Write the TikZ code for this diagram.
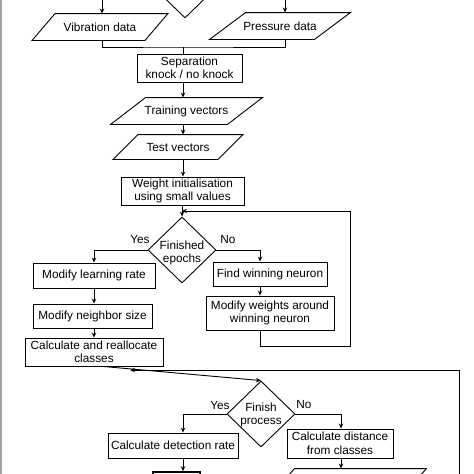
\documentclass[tikz,border=0pt]{standalone}
\usepackage{fontspec}
\setmainfont{Liberation Sans}
\usetikzlibrary{shapes.geometric,arrows.meta,calc}
\tikzset{
 box/.style={draw, inner sep=0pt, align=center},
 ptext/.style={inner sep=0pt, align=center},
 dia/.style={draw, shape=diamond, inner sep=0pt, minimum width=68pt, minimum height=66pt},
 arr/.style={-{Stealth[length=5pt,width=4.5pt]}},
 lbl/.style={inner sep=0pt},
}
\newcommand\drawpara[2]{\draw ([xshift=#2]#1.north west) -- ([xshift=#2]#1.north east) -- ([xshift=-#2]#1.south east) -- ([xshift=-#2]#1.south west) -- cycle;}
\begin{document}
\begin{tikzpicture}[x=1pt,y=-1pt,line width=0.9pt,font=\fontsize{11.8}{13.5}\selectfont]
\useasboundingbox (0,0) rectangle (474,474);
\clip (0,0) rectangle (474,474);
\fill[white] (0,0) rectangle (474,474);
\fill[gray!75] (0,0) rectangle (2,474);

% top
\node[dia] (top) at (185,-15) {};
\node[ptext, minimum width=112pt, minimum height=26pt] (vib) at (100,27) {Vibration data};
\drawpara{vib}{11.5pt}
\node[ptext, minimum width=104pt, minimum height=26pt] (pre) at (280,26) {Pressure data};
\drawpara{pre}{18pt}
\coordinate (inV) at (102,-5);
\coordinate (inP) at (285,-5);
\draw[arr] (inV) -- (vib.north -| inV);
\draw[arr] (inP) -- (pre.north -| inP);
\coordinate (mx) at (183,47);
\draw (vib.south -| inV) |- (mx) -| (pre.south -| inP);

\node[box, minimum width=105pt, minimum height=28pt] (sep) at (189.5,68) {Separation\\knock / no knock};
\draw (mx) -- (sep.north -| mx);
\node[ptext, minimum width=116pt, minimum height=26pt] (trn) at (186.5,111) {Training vectors};
\drawpara{trn}{17.5pt}
\draw[arr] (sep.south -| mx) -- (trn.north -| mx);
\node[ptext, minimum width=104pt, minimum height=24pt] (tst) at (178,147) {Test vectors};
\drawpara{tst}{12.5pt}
\draw[arr] (trn.south -| mx) -- (tst.north -| mx);
\node[box, minimum width=123pt, minimum height=28pt] (wt) at (182.5,191) {Weight initialisation\\using small values};
\draw[arr] (tst.south -| mx) -- (wt.north -| mx);

% finished epochs
\node[dia, label={[align=center,yshift=-3pt]center:{Finished\\epochs}}] (fe) at (182,250) {};
\draw[arr] (wt.south -| fe) -- (fe.north);
\node[lbl] (yes1) at (140,239) {Yes};
\node[lbl] (no1) at (228,239) {No};

% left column
\coordinate (lx) at (94,0);
\node[box, minimum width=122pt, minimum height=25pt] (mlr) at (94,275.5) {Modify learning rate};
\node[box, minimum width=119pt, minimum height=24pt] (mns) at (92.5,316) {Modify neighbor size};
\node[box, minimum width=138pt, minimum height=28pt] (cls) at (94,352) {Calculate and reallocate\\classes};
\draw[arr] (fe.west) -| (mlr.north -| lx);
\draw[arr] (mlr.south -| lx) -- (mns.north -| lx);
\draw[arr] (mns.south -| lx) -- (cls.north -| lx);

% right column
\coordinate (fx) at (260,0);
\node[box, minimum width=114pt, minimum height=24pt] (fwn) at (270,274) {Find winning neuron};
\node[box, minimum width=128pt, minimum height=34pt] (mw) at (270,313) {Modify weights around\\winning neuron};
\draw[arr] (fe.east) -| (fwn.north -| fx);
\draw[arr] (fwn.south -| fx) -- (mw.north -| fx);
\coordinate (lpR) at (350,346);
\coordinate (lpE) at (182,211);
\draw[arr] (mw.south -| fx) |- (lpR) |- (lpE);

% finish process
\node[dia, label={[align=center,yshift=-1pt]center:{Finish\\process}}] (fp) at (261,414) {};
\draw[arr] ([xshift=9pt]cls.south) -- (fp.north);
\coordinate (rlS) at (459,480);
\coordinate (rlE) at (130,370);
\draw[arr] (rlS) |- (rlE);
\node[lbl] (yes2) at (220,405) {Yes};
\node[lbl] (no2) at (304,404) {No};

\coordinate (dx) at (183,0);
\node[box, minimum width=130pt, minimum height=25pt] (cdr) at (173,445.5) {Calculate detection rate};
\draw[arr] (fp.west) -| (cdr.north -| dx);
\coordinate (ex) at (341,0);
\node[box, minimum width=106pt, minimum height=29pt] (cdc) at (340,443.5) {Calculate distance\\from classes};
\draw[arr] (fp.east) -| (cdc.north -| ex);

% bottom (cut off)
\node[draw, line width=1.6pt, minimum width=47pt, minimum height=26pt, inner sep=0pt] (nl) at (176.5,485) {};
\draw[arr] (cdr.south -| dx) -- (nl.north -| dx);
\node[ptext, minimum width=131pt, minimum height=26pt] (nr) at (348.5,482) {};
\drawpara{nr}{12pt}
\draw[arr] (cdc.south -| ex) -- (nr.north -| ex);
\end{tikzpicture}
\end{document}
